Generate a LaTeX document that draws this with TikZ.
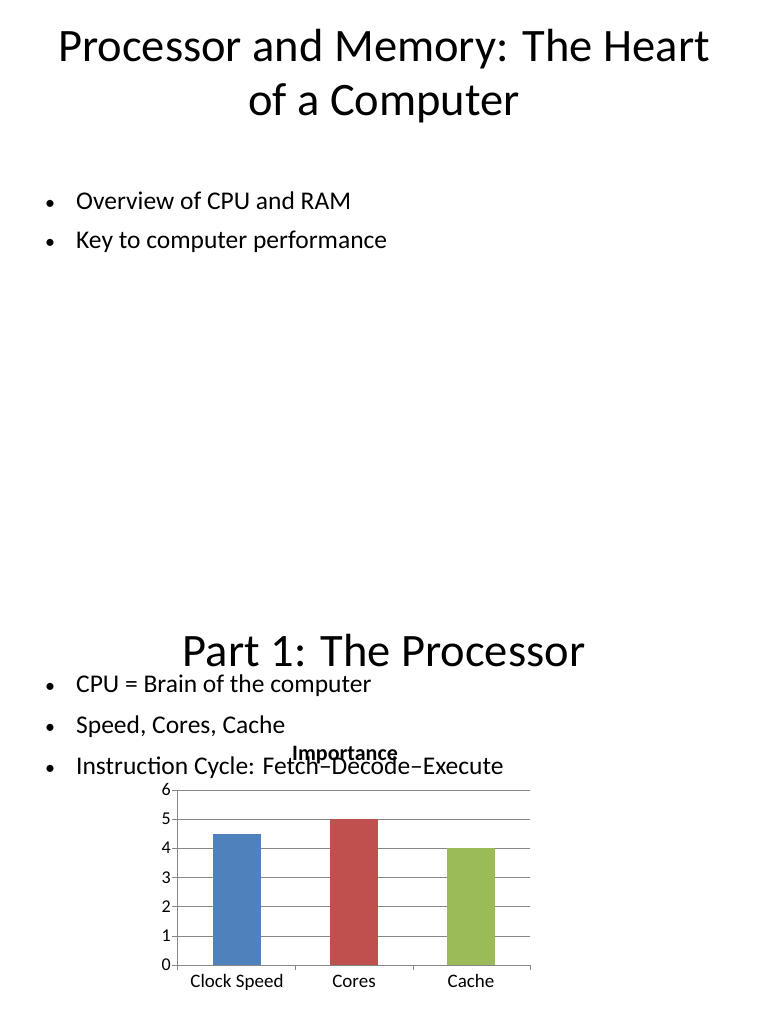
\documentclass[tikz,border=0pt]{standalone}
\usepackage{fontspec}
\setmainfont{Carlito}
\definecolor{cblue}{RGB}{79,129,189}
\definecolor{cred}{RGB}{192,80,77}
\definecolor{cgreen}{RGB}{155,187,89}
\definecolor{cgrid}{RGB}{134,134,134}
\begin{document}
\begin{tikzpicture}[x=1pt,y=-1pt,
  title/.style={font=\fontsize{46.5}{54}\selectfont,align=center,inner sep=0},
  bul/.style={font=\fontsize{25.5}{30}\selectfont,anchor=west,inner sep=0},
  tick/.style={font=\fontsize{18}{20}\selectfont,inner sep=0},
  cat/.style={font=\fontsize{19}{21}\selectfont,inner sep=0,anchor=base},
  bar/.style={draw=none}]
\useasboundingbox (0,0) rectangle (768,1024);
\node[title] (t1) at (384,76) {Processor and Memory: The Heart\\of a Computer};
\node[bul] (b1) at (45,201) {{\fontsize{20}{20}\selectfont•}\hspace{21pt}Overview of CPU and RAM};
\node[bul] (b2) at (45,242) {{\fontsize{20}{20}\selectfont•}\hspace{21pt}Key to computer performance};
\node[title] (t2) at (384,651) {Part 1: The Processor};
\node[bul] (b3) at (45,686) {{\fontsize{20}{20}\selectfont•}\hspace{21pt}CPU = Brain of the computer};
\node[bul] (b4) at (45,727) {{\fontsize{20}{20}\selectfont•}\hspace{21pt}Speed, Cores, Cache};
\node[bul] (b5) at (45,768) {{\fontsize{20}{20}\selectfont•}\hspace{21pt}Instruction Cycle: Fetch–Decode–Execute};
% chart
\foreach \v in {1,...,6}{\draw[cgrid] (177,{965-29.2*\v}) -- (530,{965-29.2*\v});}
\foreach \v in {0,...,6}{\node[tick,anchor=east] (y\v) at (171,{965-29.2*\v}) {\v};
  \draw[cgrid] (172,{965-29.2*\v}) -- (177,{965-29.2*\v});}
\draw[cgrid] (177,965) -- (177,790);
\draw[cgrid] (177,965) -- (530,965);
\foreach \x in {177,295,413,530}{\draw[cgrid] (\x,965) -- (\x,970);}
\fill[cblue] (213,965) rectangle (261,833.6);
\fill[cred] (330,965) rectangle (378,819);
\fill[cgreen] (447,965) rectangle (495,848.2);
\node[cat] (c1) at (237,987) {Clock Speed};
\node[cat] (c2) at (354,987) {Cores};
\node[cat] (c3) at (471,987) {Cache};
\node[tick,font=\bfseries\fontsize{22}{24}\selectfont] (ct) at (345,755) {Importance};
\end{tikzpicture}
\end{document}
